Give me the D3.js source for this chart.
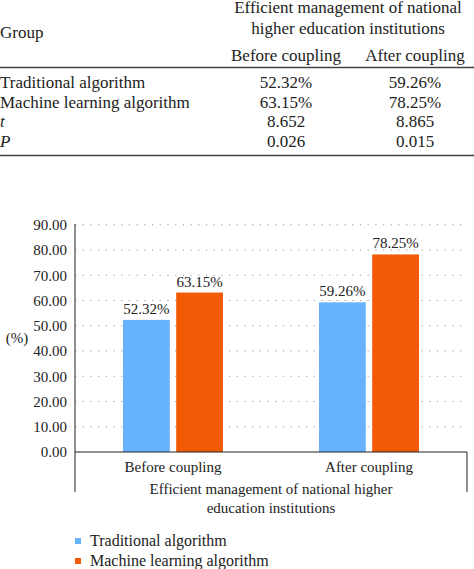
<!DOCTYPE html>
<html lang="en">
<head>
<meta charset="UTF-8">
<style>
body { margin: 0; background: #fff; }
svg text { font-family: "Liberation Serif", "Times New Roman", "DejaVu Serif", serif; fill: #222; }
</style>
</head>
<body>
<script src="https://cdn.jsdelivr.net/npm/d3@7"></script>
<script>
var categories = ["Before coupling", "After coupling"];
var series = ["Traditional algorithm", "Machine learning algorithm"];
var traditional = [52.32, 59.26];
var machine = [63.15, 78.25];
var tStats = ["8.652", "8.865"];
var pStats = ["0.026", "0.015"];
var colors = ["#66b3fb", "#f25a05"];
var yTicks = d3.range(0, 91, 10);
var serif = "'Liberation Serif', 'Times New Roman', 'DejaVu Serif', serif";

var svg = d3.select("body").append("svg").attr("width", 474).attr("height", 569);

// ---- table
var tbl = svg.append("g").style("font-family", serif);
var c1 = 286, c2 = 415, fs = 17;
tbl.append("text").attr("x", 0).attr("y", 38).attr("font-size", fs).text("Group");
tbl.append("text").attr("x", 348).attr("y", 13).attr("text-anchor", "middle").attr("font-size", fs).text("Efficient management of national");
tbl.append("text").attr("x", 348).attr("y", 34).attr("text-anchor", "middle").attr("font-size", fs).text("higher education institutions");
categories.forEach((c, i) => tbl.append("text").attr("x", i ? c2 : c1).attr("y", 61)
  .attr("text-anchor", "middle").attr("font-size", fs).text(c));
tbl.append("line").attr("x1", 0).attr("x2", 474).attr("y1", 67.5).attr("y2", 67.5).attr("stroke", "#444").attr("stroke-width", 1.5);
tbl.append("line").attr("x1", 0).attr("x2", 474).attr("y1", 155.5).attr("y2", 155.5).attr("stroke", "#444").attr("stroke-width", 1.5);
var rows = [
  [series[0], traditional.map(v => v.toFixed(2) + "%"), false],
  [series[1], machine.map(v => v.toFixed(2) + "%"), false],
  ["t", tStats, true],
  ["P", pStats, true]
];
rows.forEach((r, i) => {
  var y = 88 + i * 19.5;
  tbl.append("text").attr("x", 0).attr("y", y).attr("font-size", fs)
    .attr("font-style", r[2] ? "italic" : null).text(r[0]);
  r[1].forEach((v, j) => tbl.append("text").attr("x", j ? c2 : c1).attr("y", y)
    .attr("text-anchor", "middle").attr("font-size", fs).text(v));
});

// ---- chart
var x0 = 75, x1 = 467;
var y = d3.scaleLinear().domain([0, 80]).range([452, 250]);
var x = d3.scaleBand().domain(categories).range([x0, x1]);
var xs = d3.scaleBand().domain(series).range([48, 148]).paddingInner(0.12);

var g = svg.append("g").style("font-family", serif);
yTicks.slice(1).forEach(t => g.append("line").attr("x1", x0).attr("x2", x1)
  .attr("y1", y(t)).attr("y2", y(t)).attr("stroke", "#999").attr("stroke-dasharray", "1.2,6.5"));

var yAxis = g.append("g").attr("transform", "translate(" + x0 + ",0)")
  .call(d3.axisLeft(y).tickValues(yTicks).tickFormat(d3.format(".2f")).tickSize(0).tickPadding(8));
yAxis.select(".domain").remove();
yAxis.selectAll("text").attr("font-size", 15).style("font-family", serif).attr("fill", "#222");

categories.forEach((c, i) => {
  [traditional[i], machine[i]].forEach((v, k) => {
    var bx = x(c) + xs(series[k]);
    g.append("rect").attr("x", bx).attr("y", y(v)).attr("width", xs.bandwidth())
      .attr("height", y(0) - y(v)).attr("fill", colors[k]);
    g.append("text").attr("x", bx + xs.bandwidth() / 2).attr("y", y(v) - 6)
      .attr("text-anchor", "middle").attr("font-size", 15).text(v.toFixed(2) + "%");
  });
  g.append("text").attr("x", x(c) + x.bandwidth() / 2).attr("y", 472)
    .attr("text-anchor", "middle").attr("font-size", 15).text(c);
});

g.append("line").attr("x1", x0).attr("x2", x0).attr("y1", 224).attr("y2", 492).attr("stroke", "#222");
g.append("line").attr("x1", x1).attr("x2", x1).attr("y1", 452).attr("y2", 492).attr("stroke", "#222");
g.append("line").attr("x1", x0).attr("x2", x1).attr("y1", 452).attr("y2", 452).attr("stroke", "#222");

g.append("text").attr("x", 271).attr("y", 494).attr("text-anchor", "middle").attr("font-size", 15)
  .text("Efficient management of national higher");
g.append("text").attr("x", 271).attr("y", 513).attr("text-anchor", "middle").attr("font-size", 15)
  .text("education institutions");
g.append("text").attr("x", 17).attr("y", 343).attr("text-anchor", "middle").attr("font-size", 15).text("(%)");

series.forEach((s, k) => {
  var ly = 541 + k * 20;
  g.append("rect").attr("x", 75).attr("y", ly - 3).attr("width", 6).attr("height", 6).attr("fill", colors[k]);
  g.append("text").attr("x", 90).attr("y", ly + 5).attr("font-size", 16).text(s);
});
</script>
</body>
</html>
